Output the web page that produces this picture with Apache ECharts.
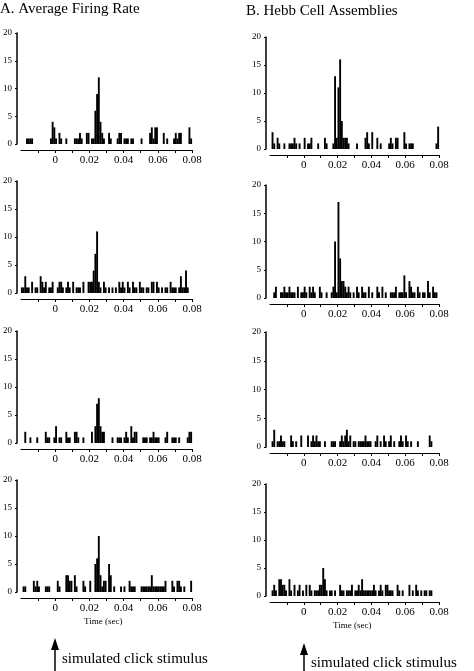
<!DOCTYPE html><html><head><meta charset="utf-8">
<script src="https://cdn.jsdelivr.net/npm/echarts@6/dist/echarts.min.js"></script>
<style>html,body{margin:0;background:#fff}#c{width:474px;height:671px}</style></head><body><div id="c"></div>
<script>
// bins: [ms, count], 1 ms wide
const a1=[[-17,1],[-16,1],[-15,1],[-14,1],[-3,1],[-2,4],[-1,3],[0,1],[2,2],[3,1],[6,1],[11,1],[12,1],[13,1],[14,2],[15,1],[18,2],[19,2],[21,1],[22,1],[23,6],[24,9],[25,12],[26,4],[27,2],[28,1],[31,2],[32,1],[36,1],[37,2],[38,2],[40,1],[41,1],[42,1],[44,1],[45,1],[50,1],[55,2],[56,3],[57,1],[58,3],[59,3],[63,2],[65,1],[69,1],[70,2],[71,1],[72,2],[73,2],[78,3],[79,1]];
const a2=[[-20,1],[-19,1],[-18,3],[-17,1],[-16,1],[-14,2],[-12,1],[-11,1],[-9,3],[-8,2],[-7,1],[-6,2],[-4,1],[-3,1],[-2,2],[1,1],[2,2],[3,2],[4,1],[6,1],[7,2],[8,1],[10,2],[12,1],[13,1],[14,1],[16,2],[19,2],[20,2],[21,2],[22,4],[23,7],[24,11],[25,2],[26,1],[28,2],[29,1],[31,1],[33,1],[35,1],[37,2],[38,1],[39,2],[40,1],[42,2],[43,1],[45,2],[46,1],[47,1],[49,2],[50,1],[51,1],[53,1],[54,1],[56,2],[57,2],[59,2],[60,1],[62,1],[64,1],[65,1],[67,2],[68,1],[69,1],[70,1],[72,1],[73,3],[74,1],[75,1],[76,4],[77,1]];
const a3=[[-18,2],[-15,1],[-11,1],[-6,2],[-5,1],[-4,1],[-1,1],[0,3],[2,1],[3,1],[6,2],[7,1],[8,1],[11,2],[12,2],[13,1],[16,1],[21,2],[23,3],[24,7],[25,8],[26,3],[27,2],[28,2],[33,1],[36,1],[37,1],[38,1],[40,1],[41,2],[42,1],[44,3],[45,1],[46,2],[47,2],[51,1],[52,1],[53,1],[55,1],[56,1],[57,2],[58,1],[59,1],[60,1],[64,1],[65,2],[68,1],[69,1],[70,1],[72,1],[77,1],[78,2],[79,2]];
const a4=[[-19,1],[-18,1],[-13,2],[-12,1],[-11,2],[-10,1],[-6,1],[-5,1],[-4,1],[1,2],[2,1],[6,3],[7,3],[8,2],[9,2],[11,3],[12,1],[16,2],[17,1],[20,2],[23,5],[24,6],[25,10],[26,3],[27,1],[28,2],[29,2],[31,5],[32,3],[34,1],[38,1],[40,1],[43,2],[44,1],[45,1],[46,1],[50,1],[51,1],[52,1],[53,1],[54,1],[55,1],[56,3],[57,1],[58,1],[59,1],[60,1],[61,1],[62,1],[63,1],[64,2],[68,2],[69,1],[71,2],[72,2],[73,1],[75,1],[79,2]];
const b1=[[-19,3],[-18,1],[-16,2],[-15,1],[-12,1],[-9,1],[-8,1],[-7,1],[-6,2],[-5,1],[-3,1],[0,2],[2,1],[3,1],[4,2],[8,1],[12,2],[13,1],[17,1],[18,13],[19,2],[20,11],[21,16],[22,5],[23,2],[24,2],[25,2],[26,1],[31,1],[36,2],[37,3],[38,1],[40,3],[43,2],[45,1],[50,1],[51,2],[52,1],[54,2],[55,2],[59,3],[60,1],[62,1],[63,1],[64,1],[78,1],[79,4]];
const b2=[[-18,1],[-17,2],[-14,1],[-13,1],[-12,2],[-11,1],[-10,1],[-9,2],[-8,1],[-7,1],[-6,1],[-4,2],[-2,1],[-1,1],[0,2],[1,1],[3,2],[4,1],[5,2],[6,1],[9,2],[10,1],[13,1],[16,1],[17,2],[18,10],[19,1],[20,17],[21,7],[22,3],[23,3],[24,2],[25,1],[26,2],[27,1],[29,1],[31,2],[32,1],[34,2],[35,1],[36,1],[38,2],[40,1],[43,2],[44,1],[46,2],[48,1],[51,1],[52,1],[53,1],[54,2],[56,1],[57,1],[58,1],[59,4],[60,1],[62,3],[63,2],[64,1],[65,1],[67,2],[68,1],[70,1],[71,1],[73,3],[74,1],[76,2],[77,1],[78,1]];
const b3=[[-19,1],[-18,3],[-16,1],[-15,1],[-14,2],[-13,1],[-12,1],[-8,2],[-7,1],[-5,1],[-2,2],[2,2],[4,1],[5,2],[6,1],[7,2],[8,1],[9,1],[12,1],[16,1],[17,1],[18,1],[21,1],[22,2],[23,1],[24,2],[25,3],[26,1],[27,2],[29,1],[30,1],[32,1],[33,1],[34,1],[35,1],[36,2],[37,1],[38,1],[39,1],[42,1],[43,2],[45,1],[47,2],[48,1],[50,1],[51,2],[53,1],[56,1],[57,2],[58,1],[60,2],[61,1],[63,1],[67,1],[74,2],[75,1]];
const b4=[[-19,1],[-18,2],[-17,1],[-15,3],[-14,3],[-13,2],[-12,2],[-11,1],[-9,3],[-8,1],[-6,2],[-4,1],[-3,2],[-1,1],[1,2],[3,2],[4,1],[6,1],[7,1],[8,1],[9,2],[10,2],[11,5],[12,3],[13,1],[15,1],[16,1],[18,1],[21,2],[22,1],[23,1],[25,1],[26,1],[27,1],[28,2],[30,1],[31,1],[32,2],[33,1],[34,3],[35,1],[36,1],[37,1],[38,1],[39,1],[40,1],[41,2],[42,1],[44,1],[45,2],[46,1],[48,2],[49,2],[50,1],[51,1],[52,1],[55,2],[56,1],[58,1],[62,2],[64,1],[66,2],[67,1],[69,1],[71,1],[72,1],[74,1],[75,1]];
const yTicks=[0,5,10,15,20];
const xTickLabels=['0','0.02','0.04','0.06','0.08'];
const titles=['A. Average Firing Rate','B. Hebb Cell Assemblies'];
const panels=[a1,a2,a3,a4,b1,b2,b3,b4];
// layout: [left, right, top(20), bottom(0)]
const L=[[21,282,33,144],[21,282,181,293],[21,282,331,443],[21,282,480,592],[270,35,37,149],[270,35,185,298],[270,35,332,447],[270,35,484,596]];
const ser='"Liberation Serif","DejaVu Serif",serif';
const grid=[],xAxis=[],yAxis=[],series=[];
panels.forEach((d,i)=>{
  const [l,r,t,b]=L[i];
  grid.push({left:l,right:r,top:t,height:b-t});
  xAxis.push({type:'value',gridIndex:i,min:-0.02,max:0.08,interval:0.01,offset:6,
    axisLine:{onZero:false,lineStyle:{color:'#000',width:1}},axisTick:{length:3,lineStyle:{color:'#000'}},
    splitLine:{show:false},
    axisLabel:{color:'#000',fontFamily:ser,fontSize:11,margin:5,showMinLabel:false,
      formatter:v=>{const k=Math.round(v*1000);if(k<0||k%20)return '';return xTickLabels[k/20];}}});
  yAxis.push({type:'value',gridIndex:i,min:0,max:20,interval:5,offset:4,
    axisLine:{show:true,onZero:false,lineStyle:{color:'#000',width:1.5}},axisTick:{show:true,length:2,lineStyle:{color:'#000'}},
    splitLine:{show:false},axisLabel:{color:'#000',fontFamily:ser,fontSize:9,margin:5,formatter:v=>yTicks.includes(v)?String(v):''}});
  series.push({type:'bar',xAxisIndex:i,yAxisIndex:i,barWidth:1.9,itemStyle:{color:'#000'},silent:true,
    data:d.map(p=>[p[0]/1000+0.0005,p[1]])});
});
const g=[
 {type:'text',left:0,top:2,style:{text:titles[0],font:'15px '+ser,fill:'#000'}},
 {type:'text',left:246,top:4,style:{text:titles[1],font:'15px '+ser,fill:'#000'}},
 {type:'text',left:84,top:617,style:{text:'Time (sec)',font:'9px '+ser,fill:'#000'}},
 {type:'text',left:333,top:621,style:{text:'Time (sec)',font:'9px '+ser,fill:'#000'}},
 {type:'text',left:62,top:652,style:{text:'simulated click stimulus',font:'15px '+ser,fill:'#000'}},
 {type:'text',left:311,top:656,style:{text:'simulated click stimulus',font:'15px '+ser,fill:'#000'}},
 {type:'line',shape:{x1:55,y1:645,x2:55,y2:671},style:{stroke:'#000',lineWidth:1.5}},
 {type:'polygon',shape:{points:[[55,638],[51,650],[59,650]]},style:{fill:'#000'}},
 {type:'line',shape:{x1:304,y1:650,x2:304,y2:671},style:{stroke:'#000',lineWidth:1.5}},
 {type:'polygon',shape:{points:[[304,643],[300,655],[308,655]]},style:{fill:'#000'}}
];
const ch=echarts.init(document.getElementById('c'),null,{renderer:'canvas'});
ch.setOption({animation:false,backgroundColor:'#fff',grid,xAxis,yAxis,series,graphic:g});
</script></body></html>
